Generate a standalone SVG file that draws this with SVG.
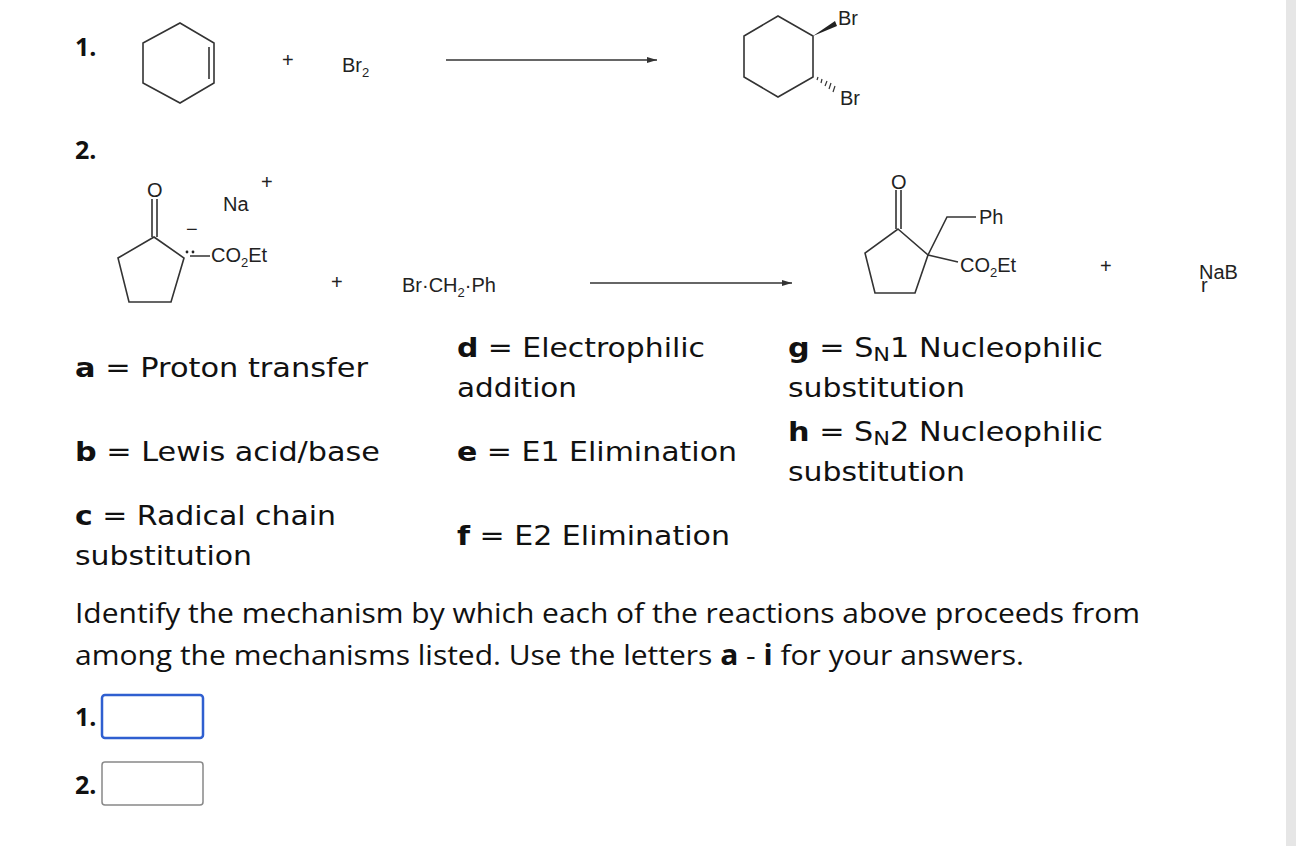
<svg xmlns="http://www.w3.org/2000/svg" width="1296" height="846" viewBox="0 0 1296 846">
<style>
.b{fill:none;stroke:#333;stroke-width:1.6}
.c{font-family:"Liberation Sans",Arial,sans-serif;font-size:20px;fill:#222}
.s{font-size:13px}
.o{font-family:"DejaVu Sans",Verdana,sans-serif;font-size:27px;fill:#111}
.q{font-family:"Open Sans",sans-serif;font-size:28px;fill:#111}
.n{font-family:"Open Sans",sans-serif;font-weight:bold;fill:#111}
</style>
<defs><marker id="ah" markerWidth="10" markerHeight="6" refX="10" refY="3" orient="auto" markerUnits="userSpaceOnUse"><path d="M0,0L10,3L0,6z" fill="#333"/></marker></defs>
<rect width="1296" height="846" fill="#fff"/>
<rect x="1286" y="0" width="10" height="846" fill="#e6e6e6"/>
<text class="n" x="75" y="56" font-size="25">1.</text>
<text class="n" x="75" y="159" font-size="25">2.</text>
<g id="cyclohexene"><path class="b" d="M180,23L214,43L214,83L180,103L143,83L143,43Z M209,47L209,79"/></g>
<g id="plus1"><text class="c" x="282" y="67" font-size="15">+</text></g>
<g id="br2"><text class="c" x="342" y="72">Br<tspan class="s" dy="5">2</tspan></text></g>
<g id="dibromide"><path class="b" d="M778,16L813,36L813,77L778,97L744,77L744,36Z"/>
<path d="M813,36L835,21L837,26Z" fill="#222"/>
<path d="M817,80l1,-3M821,83l1,-4M825,86l2,-5M829,89l2,-6M833,92l2,-6" stroke="#333" stroke-width="1.2"/>
<text class="c" x="838" y="25">Br</text><text class="c" x="840" y="105">Br</text></g>
<g id="enolate"><path class="b" d="M154,237L184,258L171,302L129,302L118,258Z M152,199L152,237M157,199L157,237M190,256L210,256"/>
<text class="c" x="147" y="197">O</text>
<text class="c" x="223" y="211">Na</text><text class="c" x="261" y="189" font-size="14">+</text>
<text class="c" x="186" y="236" font-size="15">−</text>
<circle cx="187" cy="252" r="1.4" fill="#222"/><circle cx="193" cy="252" r="1.4" fill="#222"/>
<text class="c" x="211" y="262">CO<tspan class="s" dy="5">2</tspan><tspan dy="-5">Et</tspan></text></g>
<g id="plus2"><text class="c" x="331" y="289" font-size="15">+</text></g>
<g id="benzylbromide"><text class="c" x="402" y="292">Br·CH<tspan class="s" dy="5">2</tspan><tspan dy="-5">·Ph</tspan></text></g>
<g id="product"><path class="b" d="M898,229L928,255L915,293L875,293L865,253Z M896,190L896,229M901,190L901,229M928,255L947,217L976,217M928,255L958,262"/>
<text class="c" x="891" y="189">O</text>
<text class="c" x="979" y="224">Ph</text>
<text class="c" x="960" y="272">CO<tspan class="s" dy="5">2</tspan><tspan dy="-5">Et</tspan></text></g>
<g id="plus3"><text class="c" x="1100" y="273" font-size="15">+</text></g>
<g id="nabr"><text class="c" x="1199" y="279">NaB</text><text class="c" x="1201" y="292" font-size="14">r</text></g>
<g id="connectors"><line class="b" x1="446" y1="60" x2="657" y2="60" marker-end="url(#ah)"/><line class="b" x1="590" y1="283" x2="792" y2="283" marker-end="url(#ah)"/></g>
<g id="options">
<text class="o" x="75" y="377" textLength="293" lengthAdjust="spacingAndGlyphs"><tspan font-weight="bold">a</tspan> = Proton transfer</text>
<text class="o" x="75" y="461" textLength="305" lengthAdjust="spacingAndGlyphs"><tspan font-weight="bold">b</tspan> = Lewis acid/base</text>
<text class="o" x="75" y="525" textLength="261" lengthAdjust="spacingAndGlyphs"><tspan font-weight="bold">c</tspan> = Radical chain</text>
<text class="o" x="75" y="565" textLength="177" lengthAdjust="spacingAndGlyphs">substitution</text>
<text class="o" x="457" y="357" textLength="248" lengthAdjust="spacingAndGlyphs"><tspan font-weight="bold">d</tspan> = Electrophilic</text>
<text class="o" x="457" y="397" textLength="120" lengthAdjust="spacingAndGlyphs">addition</text>
<text class="o" x="457" y="461" textLength="280" lengthAdjust="spacingAndGlyphs"><tspan font-weight="bold">e</tspan> = E1 Elimination</text>
<text class="o" x="457" y="545" textLength="273" lengthAdjust="spacingAndGlyphs"><tspan font-weight="bold">f</tspan> = E2 Elimination</text>
<text class="o" x="788" y="357" textLength="315" lengthAdjust="spacingAndGlyphs"><tspan font-weight="bold">g</tspan> = S<tspan font-size="20" dy="4">N</tspan><tspan dy="-4">1 Nucleophilic</tspan></text>
<text class="o" x="788" y="397" textLength="177" lengthAdjust="spacingAndGlyphs">substitution</text>
<text class="o" x="788" y="441" textLength="315" lengthAdjust="spacingAndGlyphs"><tspan font-weight="bold">h</tspan> = S<tspan font-size="20" dy="4">N</tspan><tspan dy="-4">2 Nucleophilic</tspan></text>
<text class="o" x="788" y="481" textLength="177" lengthAdjust="spacingAndGlyphs">substitution</text>
</g>
<text class="q" x="75" y="623" textLength="1065" lengthAdjust="spacingAndGlyphs">Identify the mechanism by which each of the reactions above proceeds from</text>
<text class="q" x="75" y="665" textLength="949" lengthAdjust="spacingAndGlyphs">among the mechanisms listed. Use the letters <tspan font-weight="bold">a</tspan> - <tspan font-weight="bold">i</tspan> for your answers.</text>
<text class="n" x="75" y="726" font-size="25">1.</text>
<rect x="102" y="695" width="101" height="43" rx="3" fill="#fff" stroke="#2f5fd0" stroke-width="2.5"/>
<text class="n" x="75" y="794" font-size="25">2.</text>
<rect x="102" y="762" width="101" height="43" rx="3" fill="#fff" stroke="#888" stroke-width="1.5"/>
</svg>
